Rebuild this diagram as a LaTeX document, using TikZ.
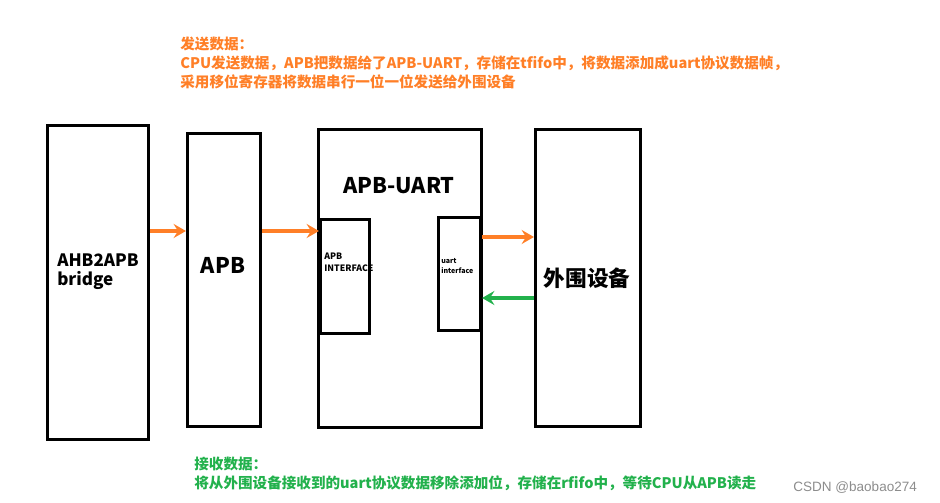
\documentclass[tikz,border=0pt]{standalone}
\usepackage{fontspec}
\setmainfont{Noto Sans CJK SC}
\newfontfamily\markfont{Liberation Sans}
\usetikzlibrary{arrows.meta}
\definecolor{sendorange}{HTML}{FF7F27}
\definecolor{recvgreen}{HTML}{22B14C}

\begin{document}
\begin{tikzpicture}[x=0.02cm,y=-0.02cm,
  block/.style={draw,line width=1.8pt,inner sep=0pt},
  title/.style={font=\bfseries\fontsize{12.3}{14}\selectfont,inner sep=0pt},
  tiny/.style={font=\bfseries\fontsize{5}{6.8}\selectfont,align=left,inner sep=0pt,anchor=west},
  note/.style={font=\bfseries\fontsize{8.3}{10.8}\selectfont,align=left,inner sep=0pt,anchor=north west},
  link/.style={line width=1.8pt,-{Stealth[length=7pt,width=8pt,inset=2.5pt]}}]

  \useasboundingbox (0,0) rectangle (940,503);

  \node[block,minimum width=2.02cm,minimum height=6.28cm] (bridge) at (98,282.5) {};
  \node[block,minimum width=1.46cm,minimum height=5.86cm] (apb)    at (224,280) {};
  \node[block,minimum width=3.26cm,minimum height=5.96cm] (uart)   at (400,278.5) {};
  \node[block,minimum width=0.98cm,minimum height=2.28cm] (apbif)  at (345,276.5) {};
  \node[block,minimum width=0.84cm,minimum height=2.26cm] (uartif) at (459.5,274) {};
  \node[block,minimum width=2.10cm,minimum height=5.94cm] (dev)    at (588,278) {};

  \node[title,font=\bfseries\fontsize{9.7}{10.8}\selectfont,align=left] (bridgetxt) at (98,272) {AHB2APB\\bridge};
  \node[title] (apbtxt)  at (223,265) {APB};
  \node[title] (uarttxt) at (399,186) {APB-UART};
  \node[title] (devtxt)  at (587,278) {外围设备};
  \node[tiny] (apbiftxt) at (324,262) {APB\\INTERFACE};
  \node[tiny,font=\bfseries\fontsize{4}{6.2}\selectfont] (uartiftxt) at (441,266) {uart\\interface};

  \path (bridge.east |- 0,231) edge[link,sendorange] (apb.west |- 0,231)
        (apb.east |- 0,231)    edge[link,sendorange] (apbif.west |- 0,231)
        (uartif.east |- 0,237) edge[link,sendorange] (dev.west |- 0,237)
        (dev.west |- 0,298)    edge[link,recvgreen]  (uartif.east |- 0,298);

  \node[note,text=sendorange] (sendnote) at (180,37)
    {发送数据：\\CPU发送数据，APB把数据给了APB-UART，存储在tfifo中，将数据添加成uart协议数据帧，\\采用移位寄存器将数据串行一位一位发送给外围设备};
  \node[note,text=recvgreen] (recvnote) at (194,457)
    {接收数据：\\将从外围设备接收到的uart协议数据移除添加位，存储在rfifo中，等待CPU从APB读走};
  \node[text=black!45,font=\markfont\fontsize{7.7}{9}\selectfont,anchor=west,inner sep=0pt] (mark) at (793,488) {CSDN @baobao274};
\end{tikzpicture}
\end{document}
